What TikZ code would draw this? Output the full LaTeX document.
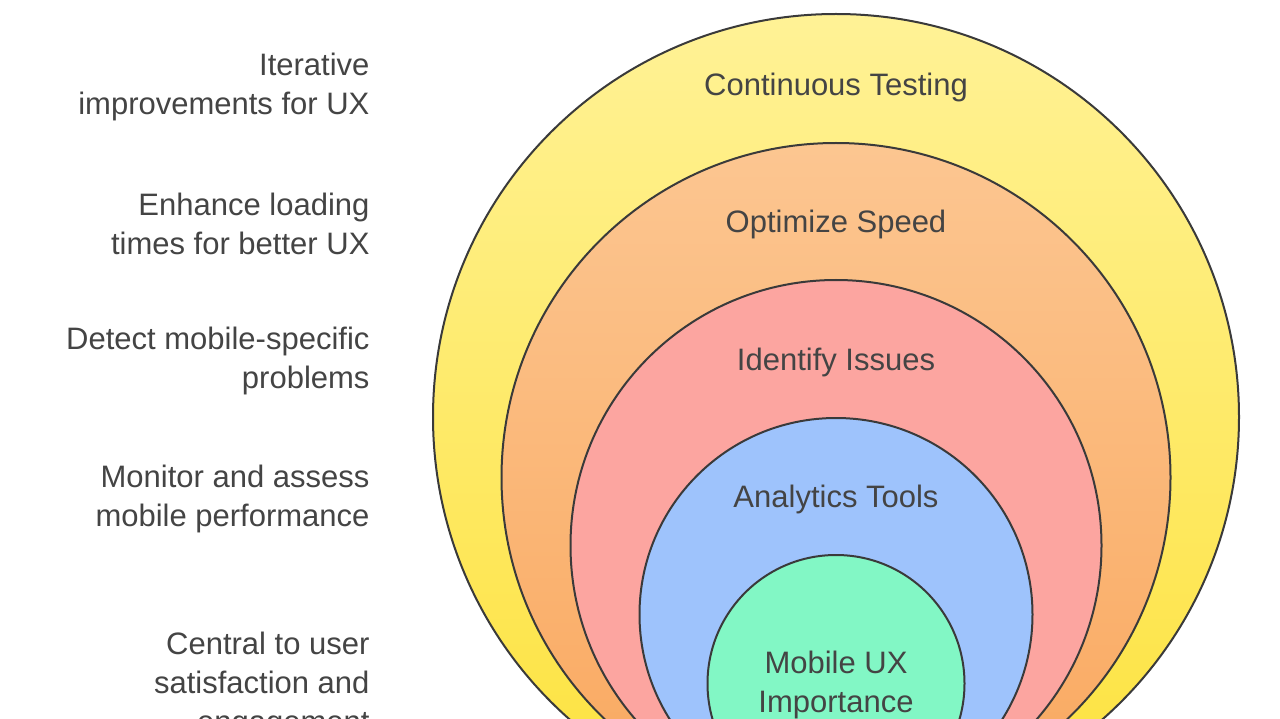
\documentclass[tikz,border=0pt]{standalone}
\usepackage{fontspec}
\setmainfont{Liberation Sans}
\definecolor{txt}{HTML}{444444}
\definecolor{edge}{HTML}{3A3A3A}
\begin{document}
\begin{tikzpicture}[x=1pt,y=-1pt,
  ring/.style={circle,draw=edge,line width=2pt,inner sep=0pt},
  lab/.style={font=\fontsize{31}{39}\selectfont,text=txt,align=center},
  side/.style={font=\fontsize{31}{39}\selectfont,text=txt,align=right,anchor=east}]
\useasboundingbox (0,0) rectangle (1280,719);
\clip (0,0) rectangle (1280,719);
\fill[white] (0,0) rectangle (1280,719);
\node[ring,minimum size=806pt,top color={rgb,255:red,255;green,242;blue,150},bottom color={rgb,255:red,253;green,226;blue,60}] (c1) at (836,417) {};
\node[ring,minimum size=669pt,top color={rgb,255:red,252;green,198;blue,145},bottom color={rgb,255:red,249;green,168;blue,95}] (c2) at (836,477.5) {};
\node[ring,minimum size=531pt,fill={rgb,255:red,252;green,165;blue,160}] (c3) at (836,545.5) {};
\node[ring,minimum size=393pt,fill={rgb,255:red,158;green,195;blue,252}] (c4) at (836,614.5) {};
\node[ring,minimum size=257pt,fill={rgb,255:red,130;green,247;blue,197}] (c5) at (836,683.5) {};
\node[lab] (l1) at (836,87) {Continuous Testing};
\node[lab] (l2) at (836,224) {Optimize Speed};
\node[lab] (l3) at (836,362) {Identify Issues};
\node[lab] (l4) at (836,499) {Analytics Tools};
\node[lab] (l5) at (836,685) {Mobile UX\\Importance};
\node[side] (s1) at (373,87) {Iterative\\improvements for UX};
\node[side] (s2) at (373,224) {Enhance loading\\times for better UX};
\node[side] (s3) at (373,361) {Detect mobile-specific\\problems};
\node[side] (s4) at (373,498.5) {Monitor and assess\\mobile performance};
\node[side] (s5) at (373,685) {Central to user\\satisfaction and\\engagement};
\end{tikzpicture}
\end{document}
